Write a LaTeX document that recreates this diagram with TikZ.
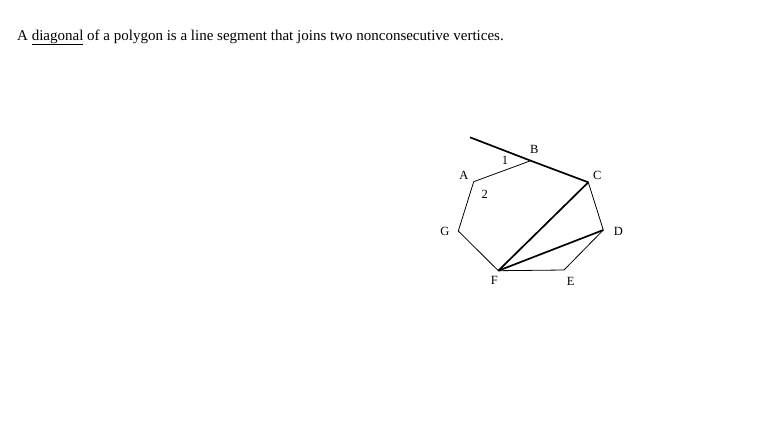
\documentclass[tikz,border=0pt]{standalone}
\usepackage{fontspec}
\setmainfont{Liberation Serif}
\begin{document}
\begin{tikzpicture}[x=1pt,y=-1pt,
  thin edge/.style={line width=0.8pt},
  thick edge/.style={line width=1.7pt},
  lbl/.style={font=\fontsize{12.5}{14}\selectfont, inner sep=0pt}]
\useasboundingbox (0,0) rectangle (768,432);
\node[anchor=base west, inner sep=0pt, font=\fontsize{15}{17}\selectfont] (title) at (17,40)
  {A \underline{diagonal} of a polygon is a line segment that joins two nonconsecutive vertices.};
\coordinate (X) at (470,137.3);
\coordinate (B) at (530.7,160.7);
\coordinate (C) at (588.3,182.3);
\coordinate (D) at (603.3,230);
\coordinate (E) at (564,270);
\coordinate (F) at (498.3,270.7);
\coordinate (G) at (458.3,231);
\coordinate (A) at (473.7,181.7);
\draw[thin edge, line join=round] (B) -- (A) -- (G) -- (F) -- (E) -- (D) -- (C);
\draw[thick edge] (X) -- (B) -- (C);
\draw[thick edge] (C) -- (F);
\draw[thick edge] (D) -- (F);
\node[lbl] (lB) at (534.3,149.3) {B};
\node[lbl] (lA) at (464,175) {A};
\node[lbl] (l1) at (505,160) {1};
\node[lbl] (l2) at (484.7,194.3) {2};
\node[lbl] (lC) at (597.3,175.7) {C};
\node[lbl] (lG) at (445,231) {G};
\node[lbl] (lD) at (618.3,231.7) {D};
\node[lbl] (lF) at (494.3,280) {F};
\node[lbl] (lE) at (570.7,281.7) {E};
\end{tikzpicture}
\end{document}
